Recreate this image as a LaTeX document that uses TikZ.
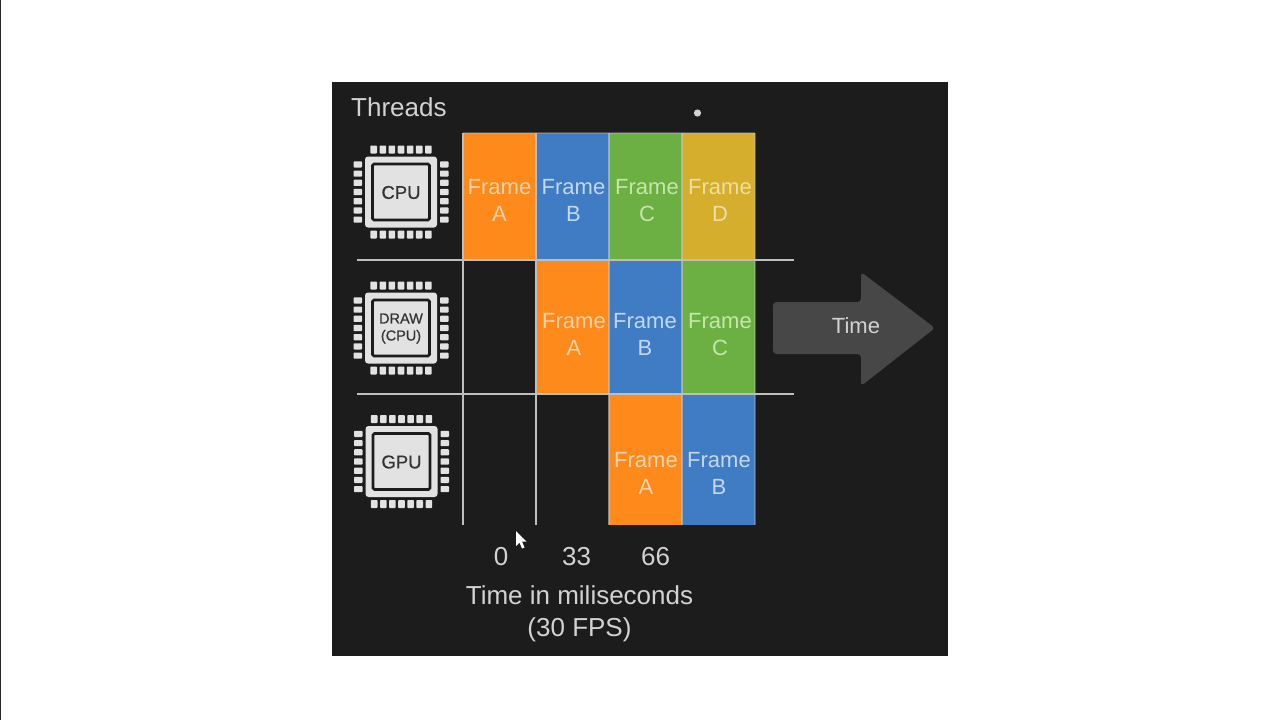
\documentclass[tikz,border=0pt]{standalone}
\usepackage{fontspec}
\setmainfont{Liberation Sans}
\newfontfamily\chipfont[FakeBold=0.6]{Liberation Sans}
\definecolor{panel}{HTML}{1C1C1C}
\definecolor{gridc}{HTML}{BEBEBE}
\definecolor{chipl}{HTML}{E2E2E2}
\definecolor{textl}{HTML}{D2D2D2}
\definecolor{chipt}{HTML}{333333}
\definecolor{orangec}{HTML}{FF8A1C}
\definecolor{bluec}{HTML}{3F7CC4}
\definecolor{greenc}{HTML}{6CB044}
\definecolor{yellowc}{HTML}{D4AE2C}
\definecolor{orangel}{HTML}{FDD3A8}
\definecolor{bluel}{HTML}{C3D8EF}
\definecolor{greenl}{HTML}{C6E6AC}
\definecolor{yellowl}{HTML}{EEDFA0}
\definecolor{arrowc}{HTML}{474747}
\tikzset{
  px/.style={x=1pt,y=-1pt},
  flabel/.style={inner sep=0pt,align=center,font=\fontsize{22}{27}\selectfont},
  pinstyle/.style={fill=chipl,draw=none,rounded corners=0.8pt},
  gridline/.style={draw=gridc,line width=1.8pt},
  celledge/.style={draw=gridc!85!white,line width=1.6pt},
  lighttext/.style={text=textl,inner sep=0pt,align=center},
  chiptext/.style={inner sep=0pt,align=center,text=chipt},
}
% \chipdraw{x}{y}{name}{font}{label}
\newcommand{\chipdraw}[5]{%
  \begin{scope}[shift={(#1,#2)}]
    \foreach \k in {-3,...,3}{
      \fill[pinstyle] (\k*9.1-3.3,-46.5) rectangle (\k*9.1+3.3,-38.5);
      \fill[pinstyle] (\k*9.1-3.3,38.5) rectangle (\k*9.1+3.3,46.5);
      \fill[pinstyle] (-47.5,\k*9.2-3.1) rectangle (-39,\k*9.2+3.1);
      \fill[pinstyle] (39,\k*9.2-3.1) rectangle (47.5,\k*9.2+3.1);
    }
    \fill[chipl,rounded corners=3pt] (-36,-35.5) rectangle (36,35.5);
    \draw[draw=panel,line width=2.6pt,fill=chipl,rounded corners=1.5pt] (-28.5,-28) rectangle (28.5,28);
    \node[chiptext,font=#4] (#3) at (0,0.5) {#5};
  \end{scope}}
% \cellbox{name}{x0}{y0}{x1}{y1}{fill}
\newcommand{\cellbox}[6]{%
  \path[fill=#6] (#2,#3) rectangle (#4,#5);
  \coordinate (#1) at (#2,#3);}
\begin{document}
\begin{tikzpicture}[px]
\useasboundingbox (0,0) rectangle (1280,720);
\fill[white] (0,0) rectangle (1280,720);
\fill[black!85] (0,0) rectangle (1.2,720);
\fill[panel] (332,82) rectangle (948,656);

\node[lighttext,anchor=base west,font=\fontsize{26}{30}\selectfont] (threads) at (351,116) {Threads};

% cells
\cellbox{c11}{463}{133}{536}{260}{orangec}
\cellbox{c12}{536}{133}{609}{260}{bluec}
\cellbox{c13}{609}{133}{682}{260}{greenc}
\cellbox{c14}{682}{133}{755}{260}{yellowc}
\cellbox{c22}{536}{260}{609}{394}{orangec}
\cellbox{c23}{609}{260}{682}{394}{bluec}
\cellbox{c24}{682}{260}{755}{394}{greenc}
\cellbox{c33}{609}{394}{682}{525}{orangec}
\cellbox{c34}{682}{394}{755}{525}{bluec}

% cell separators
\coordinate (t3) at (609,133); \coordinate (b3) at (609,525);
\coordinate (t4) at (682,133); \coordinate (b4) at (682,525);
\coordinate (t5) at (755,133); \coordinate (b5) at (755,525);
\coordinate (t2) at (536,133); \coordinate (b2) at (536,525);
\coordinate (t1) at (463,133); \coordinate (b1) at (463,525);
\coordinate (ttl) at (463,133); \coordinate (ttr) at (755,133);
\draw[celledge,draw opacity=.6] (t3) -- (b3);
\draw[celledge,draw opacity=.6] (t4) -- (b4);
\draw[celledge,draw opacity=.35] (t5) -- (b5);
\draw[celledge,draw opacity=.3,line width=1.2pt] (ttl) -- (ttr);

% grid
\coordinate (h1l) at (357,260); \coordinate (h1r) at (794,260);
\coordinate (h2l) at (357,394); \coordinate (h2r) at (794,394);
\draw[gridline] (h1l) -- (h1r);
\draw[gridline] (h2l) -- (h2r);
\draw[gridline] (t1) -- (b1);
\draw[gridline] (t2) -- (b2);

% frame labels
\node[flabel,text=orangel] (la1) at (499.5,200.5) {Frame\\A};
\node[flabel,text=bluel]   (lb1) at (573.5,200.5) {Frame\\B};
\node[flabel,text=greenl]  (lc1) at (647,200.5) {Frame\\C};
\node[flabel,text=yellowl] (ld1) at (720,200.5) {Frame\\D};
\node[flabel,text=orangel] (la2) at (574,334.5) {Frame\\A};
\node[flabel,text=bluel]   (lb2) at (645,334.5) {Frame\\B};
\node[flabel,text=greenl]  (lc2) at (720,334.5) {Frame\\C};
\node[flabel,text=orangel] (la3) at (646,473.5) {Frame\\A};
\node[flabel,text=bluel]   (lb3) at (719,473.5) {Frame\\B};

% chips
\chipdraw{401}{192}{chipa}{\chipfont\fontsize{18.5}{20}\selectfont}{CPU}
\chipdraw{401}{328}{chipb}{\chipfont\fontsize{14.5}{17}\selectfont}{DRAW\\(CPU)}
\chipdraw{401.5}{461.5}{chipc}{\chipfont\fontsize{18.5}{20}\selectfont}{GPU}

% time arrow
\fill[arrowc,rounded corners=3.5pt] (773,302) -- (861,302) -- (861,272) -- (935,328) -- (861,386) -- (861,354) -- (773,354) -- cycle;
\node[lighttext,font=\fontsize{22}{26}\selectfont] (timel) at (856,326) {Time};

% axis
\node[lighttext,font=\fontsize{26}{30}\selectfont] (t0) at (501,557) {0};
\node[lighttext,font=\fontsize{26}{30}\selectfont] (t33) at (576.5,557) {33};
\node[lighttext,font=\fontsize{26}{30}\selectfont] (t66) at (655.5,557) {66};
\node[lighttext,font=\fontsize{26}{32}\selectfont] (axis) at (579.5,613.5) {Time in miliseconds\\(30 FPS)};

% pointers
\fill[white] (516,531) -- (516,546) -- (519.5,542.5) -- (522,548.5) -- (524.5,547.5) -- (522,541.5) -- (526.5,541.5) -- cycle;
\fill[textl] (697.5,113) circle (3.6pt);
\end{tikzpicture}
\end{document}
